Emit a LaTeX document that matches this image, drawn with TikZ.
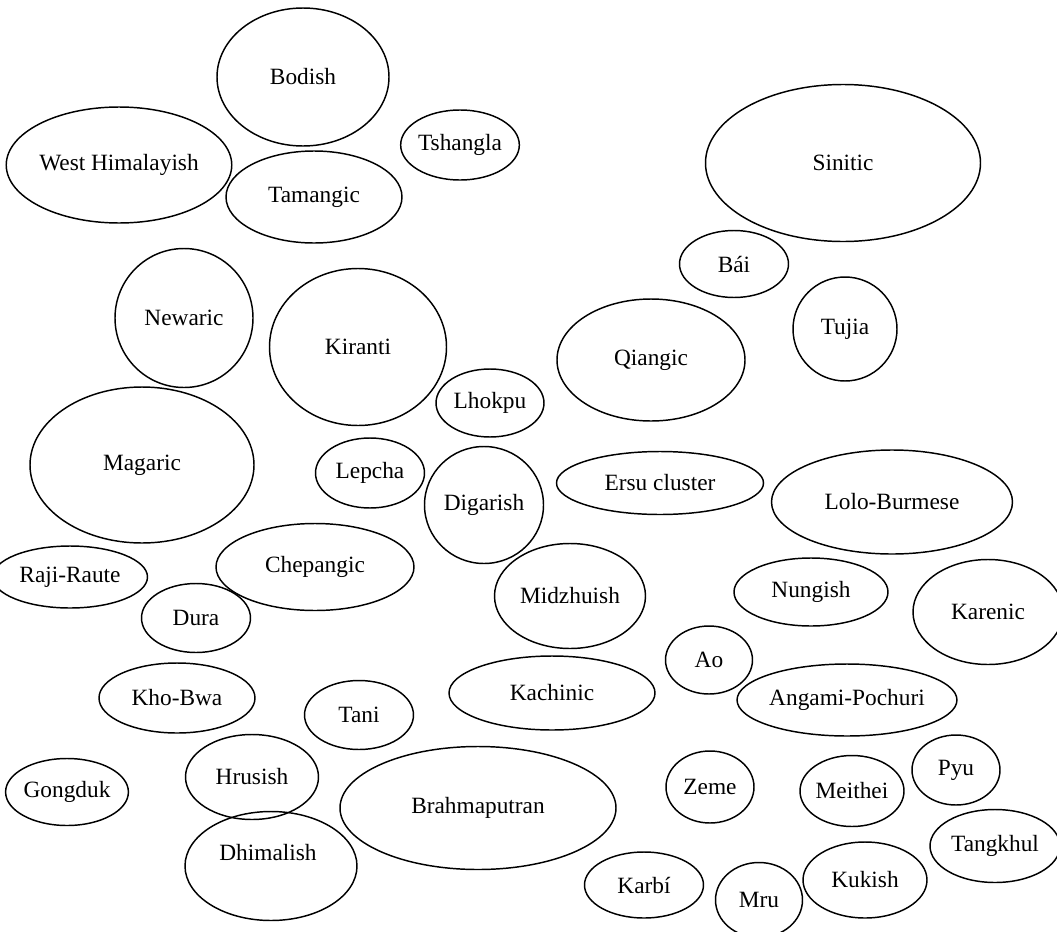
\documentclass[tikz,border=0pt]{standalone}
\usepackage{fontspec}
\setmainfont{Liberation Serif}
\usetikzlibrary{shapes.geometric}
\tikzset{lang/.style={draw, ellipse, inner sep=0pt, line width=1.1pt, font=\fontsize{17.5}{20}\selectfont}}
\newcommand\E[6]{\node[lang, minimum width=#4*0.75pt, minimum height=#5*0.75pt] (#1) at (#2,#3) {#6};}
\begin{document}
\begin{tikzpicture}[x=0.75pt,y=-0.75pt]
\useasboundingbox (0,0) rectangle (1057,932);
\E{bod}{303}{77}{172}{138}{Bodish}
\E{wh}{119}{165}{224}{116}{West Himalayish}
\E{tsh}{460}{145}{109}{70}{Tshangla}
\E{tam}{314}{197}{176}{92}{Tamangic}
\E{sin}{843}{163}{275}{157}{Sinitic}
\E{bai}{734}{264}{109}{67}{Bái}
\E{new}{184}{318}{138}{139}{Newaric}
\E{kir}{358}{347}{177}{157}{Kiranti}
\E{tuj}{845}{329}{104}{104}{Tujia}
\E{qia}{651}{360}{188}{122}{Qiangic}
\E{lho}{490}{403}{108}{68}{Lhokpu}
\E{mag}{142}{465}{224}{156}{Magaric}
\E{lep}{370}{473}{109}{70}{Lepcha}
\E{dig}{484}{505}{119}{117}{Digarish}
\E{ers}{660}{483}{207}{63}{Ersu cluster}
\E{lol}{892}{502}{241}{104}{Lolo-Burmese}
\E{raj}{70}{577}{155}{62}{Raji-Raute}
\E{che}{315}{567}{198}{87}{Chepangic}
\E{dur}{196}{618}{109}{69}{Dura}
\E{mid}{570}{596}{151}{105}{Midzhuish}
\E{nun}{811}{592}{154}{68}{Nungish}
\E{kar}{988}{612}{150}{105}{Karenic}
\E{ao}{709}{660}{87}{68}{Ao}
\E{kho}{177}{698}{156}{70}{Kho-Bwa}
\E{kac}{552}{693}{206}{74}{Kachinic}
\E{ang}{847}{700}{190}{72}{Angami-Pochuri}
\E{tan}{359}{715}{109}{69}{Tani}
\E{hru}{252}{777}{133}{85}{Hrusish}
\E{bra}{478}{808}{276}{123}{Brahmaputran}
\E{gon}{67}{792}{122}{67}{Gongduk}
\E{zem}{710}{787}{88}{72}{Zeme}
\E{mei}{852}{791}{104}{71}{Meithei}
\E{pyu}{956}{770}{88}{70}{Pyu}
\E{tan2}{995}{846}{130}{73}{Tangkhul}
\E{dhi}{271}{866}{172}{109}{}
\node[font=\fontsize{17.5}{20}\selectfont] (dhit) at (268,853) {Dhimalish};
\E{kab}{644}{885}{119}{66}{Karbí}
\E{mru}{759}{900}{87}{75}{Mru}
\E{kuk}{865}{880}{124}{76}{Kukish}
\end{tikzpicture}
\end{document}
